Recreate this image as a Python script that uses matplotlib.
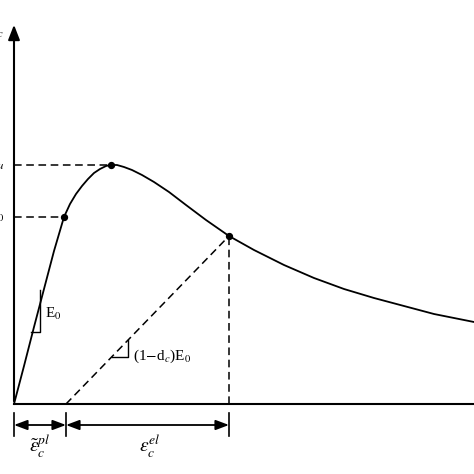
import matplotlib
matplotlib.use("Agg")
import matplotlib.pyplot as plt
plt.rcParams["mathtext.fontset"] = "stix"

# curve (strain, stress) in diagram units (origin at axes intersection)
strain = [0, 10, 20, 30, 40, 50, 56, 62, 68, 74, 80, 86, 92, 97, 103, 110, 118, 128, 140, 155, 172, 192, 215, 240, 270, 300, 330, 360, 390, 420, 460]
stress = [0, 38, 77, 115, 153, 187, 200, 210, 218, 225, 231, 235, 238, 239, 239, 237, 234, 229, 222, 212, 199, 184, 168, 154, 139, 126, 115, 106, 98, 90, 82]
peak = (97, 239)
yield_pt = (50, 187)
unload_pt = (215, 168)
eps_pl = 52

fig = plt.figure(figsize=(4.74, 4.74), dpi=100)
ax = fig.add_axes([0, 0, 1, 1])
ax.set_xlim(-14, 460)
ax.set_ylim(-70, 404)
ax.axis("off")

lw = 1.3
ax.plot(strain, stress, color="black", lw=lw)
ax.plot([0, 460], [0, 0], color="black", lw=1.5)
ax.annotate("", xy=(0, 382), xytext=(0, 0),
            arrowprops=dict(arrowstyle="-|>,head_width=0.35,head_length=0.9", color="black", lw=1.5))
ax.scatter([peak[0], yield_pt[0], unload_pt[0]], [peak[1], yield_pt[1], unload_pt[1]], s=18, color="black", zorder=5)
dash = dict(color="black", lw=1.1, ls=(0, (5, 3)))
ax.plot([0, peak[0]], [peak[1]] * 2, **dash)
ax.plot([0, yield_pt[0]], [yield_pt[1]] * 2, **dash)
ax.plot([unload_pt[0]] * 2, [0, unload_pt[1]], **dash)
ax.plot([eps_pl, unload_pt[0]], [0, unload_pt[1]], **dash)
ax.plot([17, 26, 26], [72, 72, 114], color="black", lw=1)
ax.text(31, 86, r"E$_0$", fontsize=11, family="Liberation Serif")
ax.plot([98, 114, 114], [47, 47, 64], color="black", lw=1)
ax.text(119, 44, r"(1$-$d$_c$)E$_0$", fontsize=11, family="Liberation Serif")
for x in [0, eps_pl, unload_pt[0]]:
    ax.plot([x, x], [-9, -32], color="black", lw=1.2)
ap = dict(arrowstyle="<|-|>,head_width=0.3,head_length=0.8", color="black", lw=1.3, shrinkA=0, shrinkB=0)
ax.annotate("", xy=(0, -21), xytext=(eps_pl, -21), arrowprops=ap)
ax.annotate("", xy=(eps_pl, -21), xytext=(unload_pt[0], -21), arrowprops=ap)
ax.text(26, -42, r"$\tilde{\varepsilon}_c^{pl}$", fontsize=14, ha="center", va="center")
ax.text(136, -42, r"$\varepsilon_c^{el}$", fontsize=14, ha="center", va="center")
ax.text(-10, 372, r"$\sigma_c$", fontsize=11, ha="right", va="center")
ax.text(-10, peak[1], r"$\sigma_{cu}$", fontsize=11, ha="right", va="center")
ax.text(-10, yield_pt[1], r"$\sigma_{c0}$", fontsize=11, ha="right", va="center")
fig.savefig("out.png", dpi=100)
